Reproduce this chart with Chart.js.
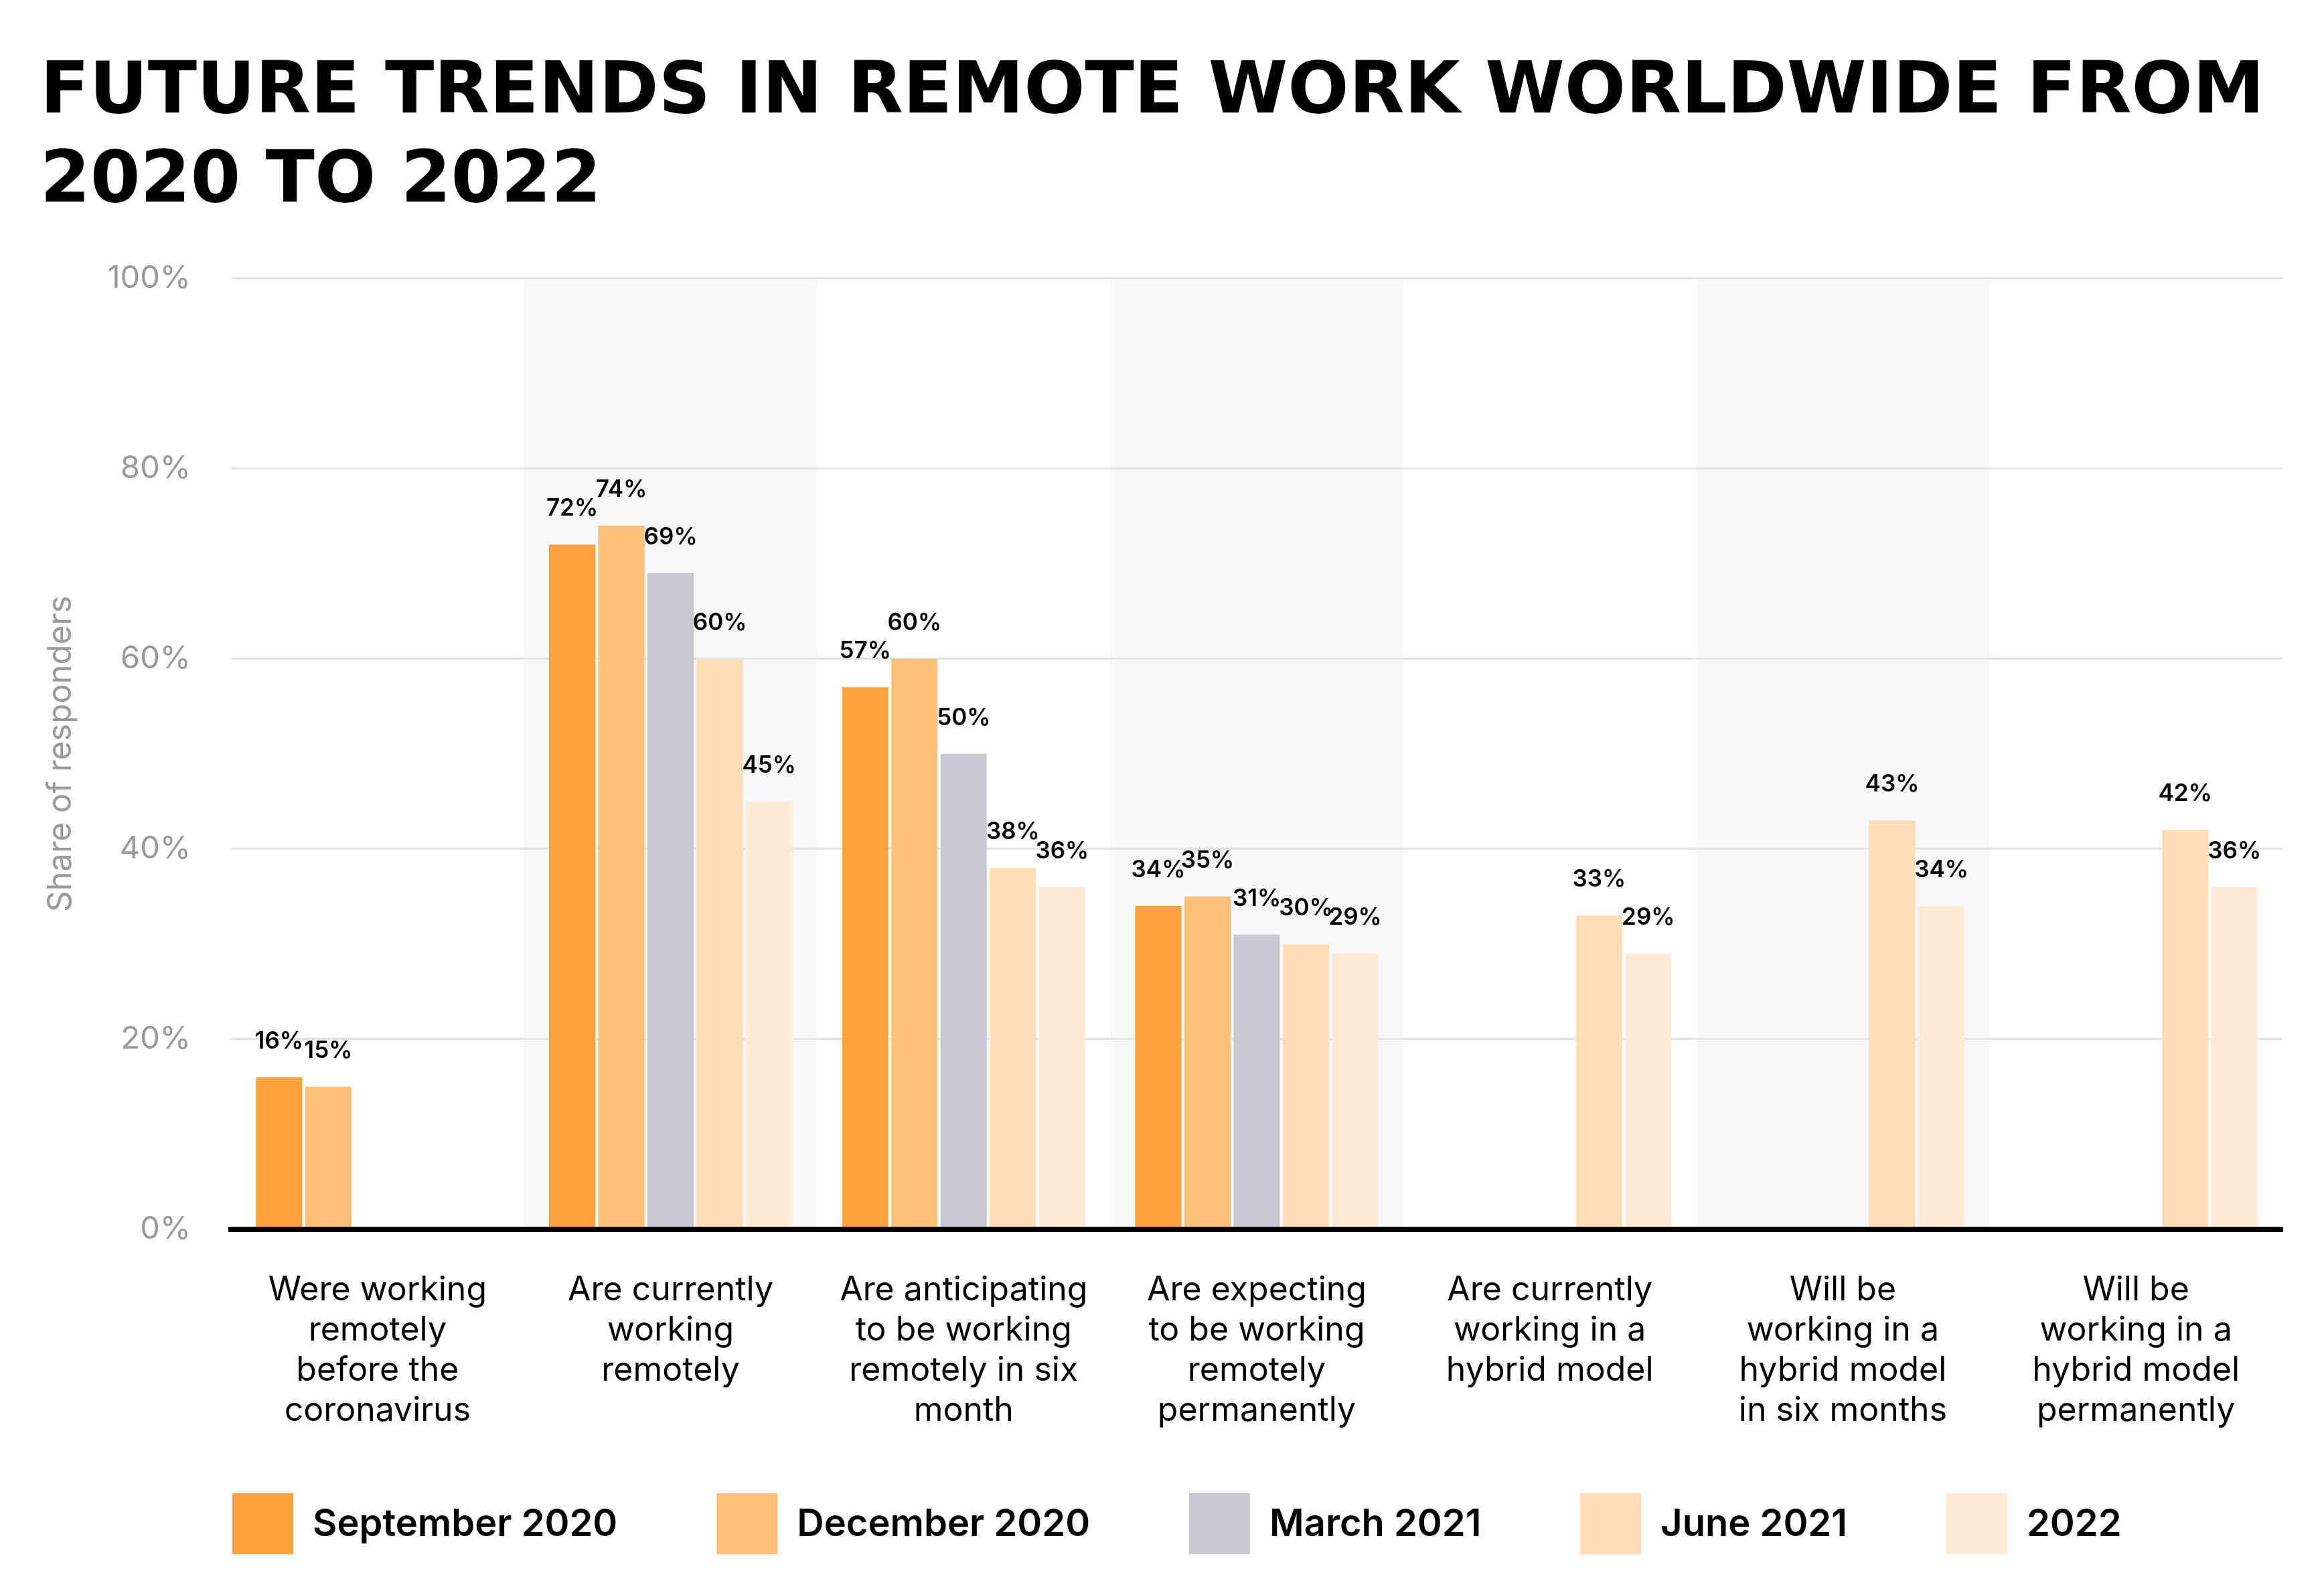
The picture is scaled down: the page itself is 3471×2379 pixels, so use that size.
<!DOCTYPE html>
<html>
<head>
<meta charset="utf-8">
<script src="https://cdn.jsdelivr.net/npm/chart.js@4.4.1/dist/chart.umd.min.js"></script>
<style>
  html, body { margin: 0; padding: 0; background: #fff; }
  #wrap { width: 3471px; height: 2379px; }
</style>
</head>
<body>
<div id="wrap"><canvas id="myChart"></canvas></div>
<script>
const titleLines = ["FUTURE TRENDS IN REMOTE WORK WORLDWIDE FROM", "2020 TO 2022"];
const categories = [
  ["Were working", "remotely", "before the", "coronavirus"],
  ["Are currently", "working", "remotely"],
  ["Are anticipating", "to be working", "remotely in six", "month"],
  ["Are expecting", "to be working", "remotely", "permanently"],
  ["Are currently", "working in a", "hybrid model"],
  ["Will be", "working in a", "hybrid model", "in six months"],
  ["Will be", "working in a", "hybrid model", "permanently"],
];
const seriesNames = ["September 2020", "December 2020", "March 2021", "June 2021", "2022"];
const sep2020 = [16, 72, 57, 34, null, null, null];
const dec2020 = [15, 74, 60, 35, null, null, null];
const mar2021 = [null, 69, 50, 31, null, null, null];
const jun2021 = [null, 60, 38, 30, 33, 43, 42];
const y2022 = [null, 45, 36, 29, 29, 34, 36];
const yTicks = [0, 20, 40, 60, 80, 100];
const colors = ["#ffa33f", "#ffc17a", "#c8c8d1", "#ffddb8", "#ffebd6"];

const FONT = 'Inter, "Noto Sans", sans-serif';
Chart.defaults.font.family = FONT;

// shaded background behind every second category
const bands = {
  id: "bands",
  beforeDraw(chart) {
    const { ctx, chartArea, scales } = chart;
    const x = scales.x;
    const w = x.width / categories.length;
    ctx.save();
    ctx.fillStyle = "#f8f8fa";
    categories.forEach((c, i) => {
      if (i % 2 === 1) {
        ctx.fillRect(x.getPixelForValue(i) - w / 2, chartArea.top, w, chartArea.bottom - chartArea.top);
      }
    });
    ctx.restore();
  },
};

// value labels over bars
const valueLabels = {
  id: "valueLabels",
  afterDatasetsDraw(chart) {
    const ctx = chart.ctx;
    ctx.save();
    ctx.font = "600 35px " + FONT;
    ctx.fillStyle = "#000";
    ctx.textAlign = "center";
    ctx.textBaseline = "bottom";
    chart.data.datasets.forEach((ds, di) => {
      chart.getDatasetMeta(di).data.forEach((bar, i) => {
        const v = ds.data[i];
        if (v == null) return;
        ctx.fillText(v + "%", bar.x, bar.y - 36);
      });
    });
    ctx.restore();
  },
};

// legend row under the axis labels, starting at the plot's left edge
const bottomLegend = {
  id: "bottomLegend",
  afterDraw(chart) {
    const ctx = chart.ctx;
    const box = 91;
    const top = 2230;
    let x = chart.chartArea.left + 2;
    ctx.save();
    ctx.font = "600 56px " + FONT;
    ctx.textBaseline = "middle";
    ctx.textAlign = "left";
    chart.data.datasets.forEach((ds) => {
      ctx.fillStyle = ds.backgroundColor;
      ctx.fillRect(x, top, box, box);
      ctx.fillStyle = "#000";
      ctx.fillText(ds.label, x + 120, top + box / 2 + 2);
      x += 120 + ctx.measureText(ds.label).width + 148;
    });
    ctx.restore();
  },
};

const seriesData = [sep2020, dec2020, mar2021, jun2021, y2022];

const data = {
  labels: categories,
  datasets: seriesNames.map((name, i) => ({
    label: name,
    data: seriesData[i],
    backgroundColor: colors[i],
    borderWidth: 0,
    categoryPercentage: 0.84,
    barPercentage: 0.94,
  })),
};

const config = {
  type: "bar",
  data: data,
  options: {
    responsive: true,
    maintainAspectRatio: false,
    devicePixelRatio: 1,
    animation: false,
    layout: { padding: { left: 60, right: 62, top: 0, bottom: 189 } },
    plugins: {
      legend: { display: false },
      tooltip: { enabled: false },
      title: {
        display: true,
        text: titleLines,
        align: "start",
        color: "#000",
        font: { family: '"DejaVu Sans", sans-serif', weight: "bold", size: 107.5, lineHeight: 1.24 },
        padding: { top: 73, bottom: 76 },
      },
    },
    scales: {
      x: {
        grid: { display: false },
        border: { display: true, color: "#000", width: 8, z: 1 },
        ticks: {
          color: "#000",
          font: { size: 50, lineHeight: 1.2 },
          padding: 53,
          autoSkip: false,
          maxRotation: 0,
        },
      },
      y: {
        min: 0,
        max: 100,
        afterBuildTicks: (s) => { s.ticks = yTicks.map((v) => ({ value: v })); },
        afterFit: (s) => { s.width = 285; },
        ticks: {
          color: "#9a9a9a",
          font: { size: 47 },
          padding: 60,
          callback: (v) => v + "%",
        },
        grid: { color: "#e4e4e4", lineWidth: 3, drawTicks: false },
        border: { display: false },
        title: {
          display: true,
          text: "Share of responders",
          color: "#9a9a9a",
          font: { size: 49 },
          padding: { top: 2, bottom: 0 },
        },
      },
    },
  },
  plugins: [bands, valueLabels, bottomLegend],
};

var myChart = new Chart(document.getElementById("myChart"), config);
</script>
</body>
</html>
